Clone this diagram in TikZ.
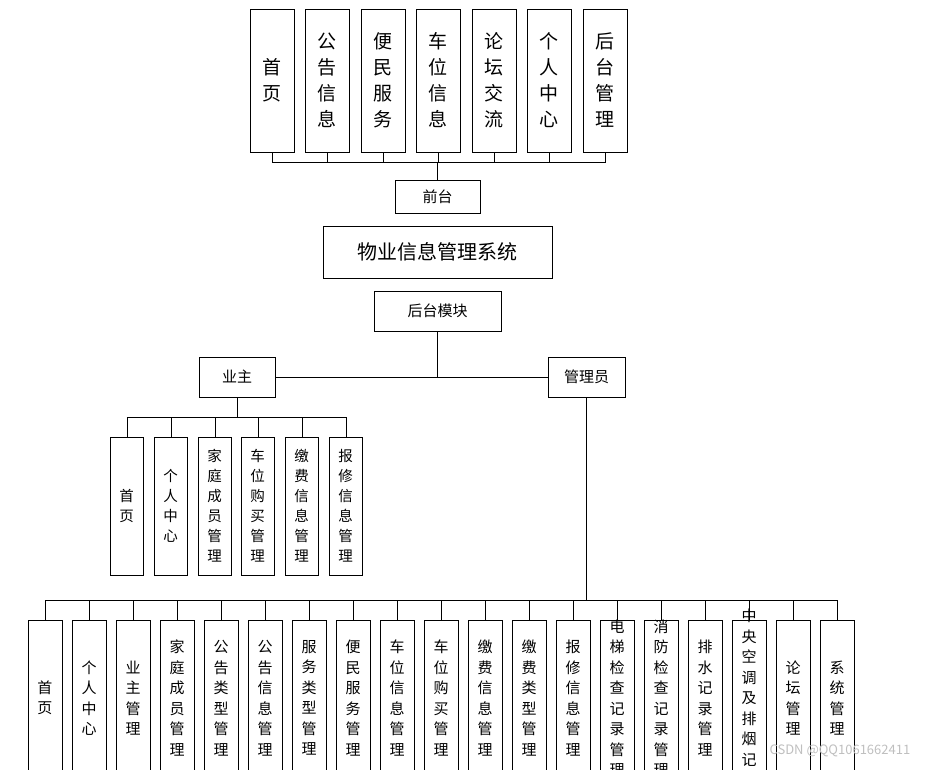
\documentclass[tikz,border=0pt]{standalone}
\usepackage{fontspec}
\setmainfont{Noto Sans CJK SC}
\XeTeXlinebreaklocale "zh"
\XeTeXlinebreakskip=0pt plus 1pt
\begin{document}
\begin{tikzpicture}[x=1pt,y=-1pt,line width=0.8pt,
  box/.style={draw,inner sep=0pt,anchor=north west},
  vtop/.style={text width=21pt,align=center,font=\fontsize{19}{26}\selectfont},
  vmid/.style={text width=16pt,align=center,font=\fontsize{14.5}{20}\selectfont},
  vbot/.style={text width=16pt,align=center,font=\fontsize{15}{20.5}\selectfont},
  hbox/.style={draw,inner sep=0pt,font=\fontsize{15}{18}\selectfont}]
\useasboundingbox (0,0) rectangle (927,770);
% top row
\foreach \x/\t [count=\i] in {250/首页,305/公告信息,361/便民服务,416/车位信息,472/论坛交流,527/个人中心,583/后台管理}{
  \node[box,minimum width=44pt,minimum height=143pt] (t\i) at (\x,9) {};
  \node[vtop] (tt\i) at (\x+22,80) {\t};
  \draw (t\i.south) -- ++(0,10);
}
\node[hbox,minimum width=85pt,minimum height=33pt] (qt) at (437.5,196.5) {前台};
\draw (t1.south)++(0,10) coordinate (bl) -- (bl -| t7.south);
\draw (qt.north) -- (qt.north |- bl);
\node[hbox,minimum width=229pt,minimum height=52pt,font=\fontsize{20}{24}\selectfont] (sys) at (437.5,252) {物业信息管理系统};
\node[hbox,minimum width=127pt,minimum height=40pt] (ht) at (437.5,311) {后台模块};
\node[hbox,minimum width=76pt,minimum height=40pt] (yz) at (237,377) {业主};
\node[hbox,minimum width=77pt,minimum height=40pt] (gl) at (586.5,377) {管理员};
\draw (yz.east) -- (gl.west);
\draw (ht.south) -- (ht.south |- yz.east);
% owner children
\foreach \x/\t [count=\i] in {110/首页,154/个人中心,198/家庭成员管理,241/车位购买管理,285/缴费信息管理,329/报修信息管理}{
  \node[box,minimum width=33pt,minimum height=138pt] (o\i) at (\x,437) {};
  \node[vmid] (ot\i) at (\x+16.5,506) {\t};
  \draw (o\i.north) -- ++(0,-20);
}
\draw (o1.north)++(0,-20) coordinate (ob) -- (ob -| o6.north);
\draw (yz.south) -- (yz.south |- ob);
% admin children
\foreach \t [count=\i] in {首页,个人中心,业主管理,家庭成员管理,公告类型管理,公告信息管理,服务类型管理,便民服务管理,车位信息管理,车位购买管理,缴费信息管理,缴费类型管理,报修信息管理,电梯检查记录管理,消防检查记录管理,排水记录管理,中央空调及排烟记录,论坛管理,系统管理}{
  \node[box,minimum width=34pt,minimum height=160pt] (a\i) at (28+44*\i-44,620) {};
  \node[vbot] (at\i) at (45+44*\i-44,698) {\t};
  \draw (a\i.north) -- ++(0,-20);
}
\draw (a1.north)++(0,-20) coordinate (ab) -- (ab -| a19.north);
\draw (gl.south) -- (gl.south |- ab);
\node[text=gray!50,font=\fontsize{13}{15}\selectfont,anchor=east] (wm) at (914,751) {CSDN @QQ1061662411};
\end{tikzpicture}
\end{document}
